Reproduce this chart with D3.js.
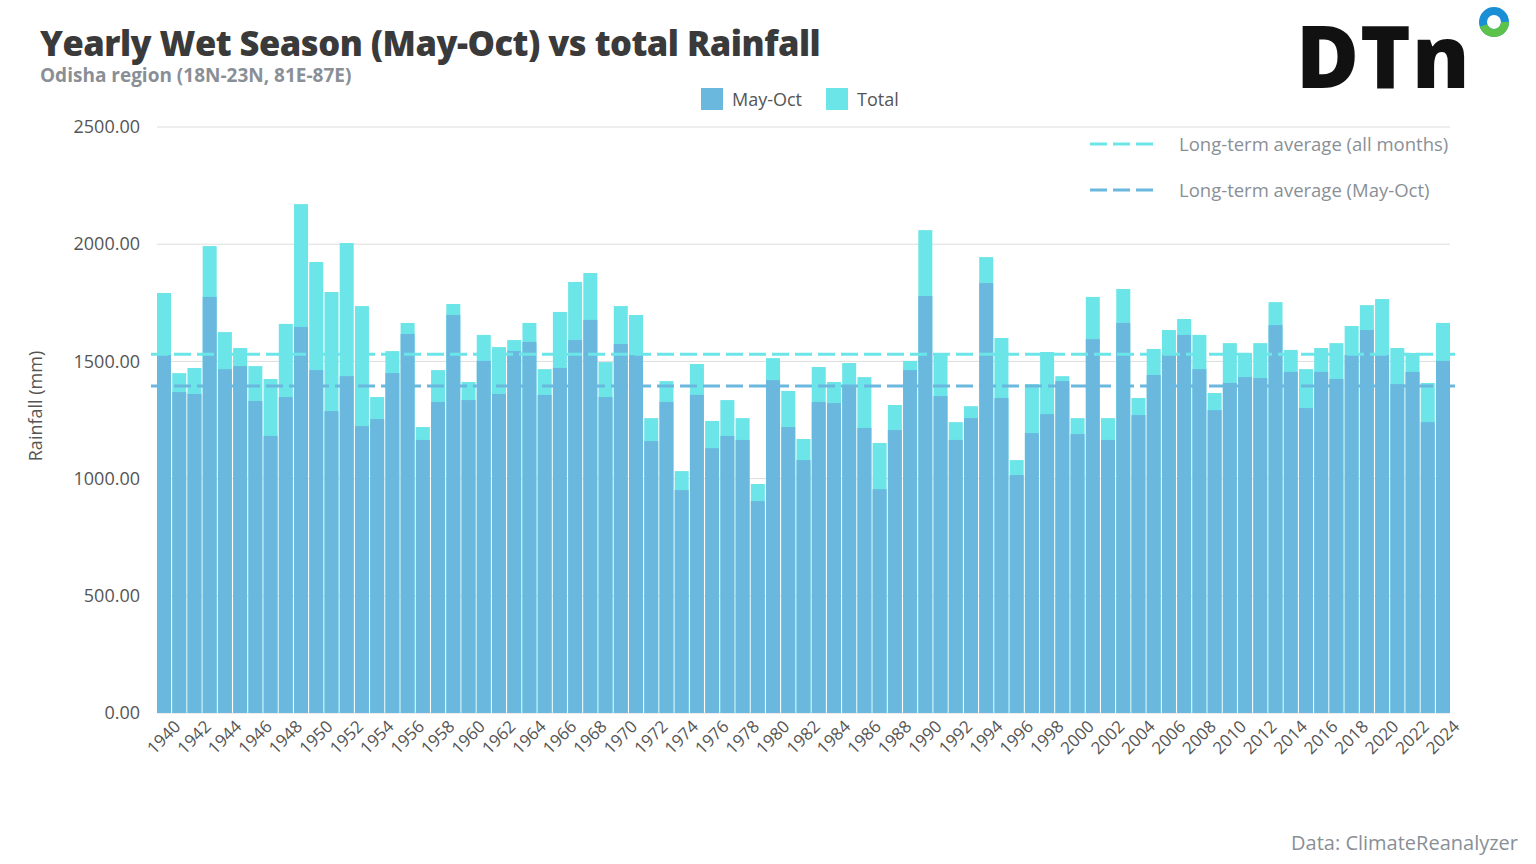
<!DOCTYPE html>
<html><head><meta charset="utf-8">
<script src="https://cdn.jsdelivr.net/npm/d3@7"></script>
<style>body{margin:0;background:#fff;font-family:"Open Sans",sans-serif}</style>
</head><body><svg id="c" width="1536" height="864"></svg>
<script>
const years = d3.range(1940, 2025);
const mayOct = [1527,1369,1361,1775,1467,1480,1331,1182,1348,1647,1463,1288,1437,1224,1254,1450,1617,1165,1327,1698,1335,1502,1361,1544,1583,1357,1472,1591,1677,1348,1574,1527,1160,1327,951,1357,1130,1182,1165,904,1420,1220,1079,1327,1322,1399,1216,955,1207,1463,1779,1352,1165,1258,1834,1344,1015,1194,1275,1416,1190,1595,1165,1664,1271,1442,1527,1613,1467,1292,1408,1433,1429,1655,1455,1301,1455,1425,1527,1634,1527,1403,1455,1241,1502];
const total = [1792,1450,1472,1992,1625,1557,1480,1425,1660,2171,1924,1796,2005,1736,1348,1544,1664,1220,1463,1745,1412,1613,1561,1591,1664,1467,1711,1839,1877,1497,1736,1698,1258,1416,1032,1489,1246,1335,1258,977,1514,1374,1169,1476,1412,1493,1433,1152,1314,1502,2060,1531,1241,1309,1945,1600,1079,1403,1540,1437,1258,1775,1258,1809,1344,1553,1634,1681,1613,1365,1578,1536,1578,1753,1549,1467,1557,1578,1651,1740,1766,1557,1536,1408,1664];
const avgTotal = 1531, avgMayOct = 1395;
const yTicks = [0,500,1000,1500,2000,2500];
const cMO = "#6bb8df", cT = "#6be5e8";

const svg = d3.select("#c");
const x = d3.scaleBand().domain(years).range([157,1450]).paddingInner(0.08).paddingOuter(0);
const y = d3.scaleLinear().domain([0,2500]).range([713,127]);

svg.append("text").attr("x",40).attr("y",56).attr("font-size",34.5).attr("font-weight",800).attr("letter-spacing",-0.5).attr("fill","#3a3a3a").text("Yearly Wet Season (May-Oct) vs total Rainfall");
svg.append("text").attr("x",40).attr("y",82).attr("font-size",19).attr("font-weight",700).attr("fill","#8a8f96").text("Odisha region (18N-23N, 81E-87E)");

// logo
svg.append("text").attr("x",1296).attr("y",88).attr("font-size",86).attr("font-weight",800).attr("fill","#111").attr("letter-spacing",1).text("DTn");
svg.append("circle").attr("cx",1494).attr("cy",22).attr("r",11).attr("fill","none").attr("stroke","#1a8fd6").attr("stroke-width",8);
svg.append("path").attr("d",d3.arc()({innerRadius:7,outerRadius:15,startAngle:Math.PI*0.5,endAngle:Math.PI*1.4})).attr("transform","translate(1494,22)").attr("fill","#5cc24a");

// grid
svg.append("g").selectAll("line").data(yTicks).join("line")
 .attr("x1",157).attr("x2",1450).attr("y1",d=>y(d)).attr("y2",d=>y(d)).attr("stroke","#ddd");
const ya = svg.append("g").attr("transform","translate(143,0)").call(d3.axisLeft(y).tickValues(yTicks).tickFormat(d3.format(".2f")).tickSize(0));
ya.select(".domain").remove();
ya.selectAll("text").attr("font-size",18).attr("fill","#555").attr("font-family","Open Sans");
svg.append("text").attr("transform","translate(42,406) rotate(-90)").attr("text-anchor","middle").attr("font-size",18).attr("fill","#555").text("Rainfall (mm)");

svg.append("g").selectAll("rect").data(years).join("rect")
 .attr("x",d=>x(d)).attr("width",x.bandwidth()).attr("y",(d,i)=>y(total[i])).attr("height",(d,i)=>y(0)-y(total[i])).attr("fill",cT);
svg.append("g").selectAll("rect").data(years).join("rect")
 .attr("x",d=>x(d)).attr("width",x.bandwidth()).attr("y",(d,i)=>y(mayOct[i])).attr("height",(d,i)=>y(0)-y(mayOct[i])).attr("fill",cMO);

[[avgTotal,cT],[avgMayOct,cMO]].forEach(([v,c])=>svg.append("line").attr("x1",151).attr("x2",1455).attr("y1",y(v)).attr("y2",y(v)).attr("stroke",c).attr("stroke-width",3).attr("stroke-dasharray","17,6"));

const xa = svg.append("g").attr("transform","translate(0,713)").call(d3.axisBottom(x).tickValues(years.filter(d=>d%2===0)).tickSize(0));
xa.select(".domain").remove();
xa.selectAll("text").attr("font-size",17).attr("fill","#555").attr("font-family","Open Sans").attr("text-anchor","end").attr("transform","translate(7,4) rotate(-45)");

// legends
const lg=[["May-Oct",cMO,701],["Total",cT,826]];
lg.forEach(([t,c,lx])=>{svg.append("rect").attr("x",lx).attr("y",88).attr("width",22).attr("height",22).attr("fill",c);
 svg.append("text").attr("x",lx+31).attr("y",106).attr("font-size",18).attr("fill","#555").text(t);});
[["Long-term average (all months)",cT,144],["Long-term average (May-Oct)",cMO,190]].forEach(([t,c,ly])=>{
 svg.append("line").attr("x1",1090).attr("x2",1156).attr("y1",ly).attr("y2",ly).attr("stroke",c).attr("stroke-width",3).attr("stroke-dasharray","17,6");
 svg.append("text").attr("x",1179).attr("y",ly+7).attr("font-size",18.5).attr("fill","#8a8f96").text(t);});
svg.append("text").attr("x",1518).attr("y",850).attr("text-anchor","end").attr("font-size",20).attr("fill","#8a8f96").text("Data: ClimateReanalyzer");
</script></body></html>
